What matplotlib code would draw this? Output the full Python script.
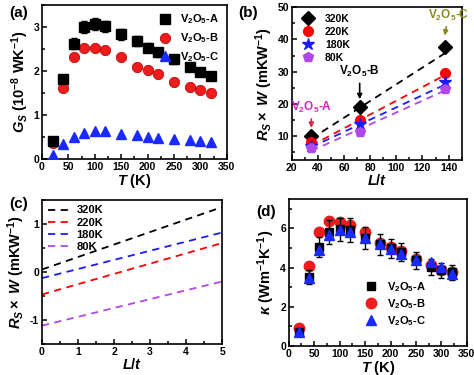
import matplotlib
matplotlib.use("Agg")
import matplotlib.pyplot as plt
from matplotlib.ticker import MultipleLocator
import numpy as np

plt.rcParams['font.family'] = ['Liberation Sans', 'DejaVu Sans']
plt.rcParams['font.weight'] = 'bold'
plt.rcParams['mathtext.fontset'] = 'custom'
plt.rcParams['mathtext.rm'] = 'Liberation Sans:bold'
plt.rcParams['mathtext.it'] = 'Liberation Sans:bold:italic'
plt.rcParams['mathtext.bf'] = 'Liberation Sans:bold'
plt.rcParams['axes.linewidth'] = 1.2
plt.rcParams['axes.unicode_minus'] = False

# (a) thermal conductance vs temperature
temps = [20, 40, 60, 80, 100, 120, 150, 180, 200, 220, 250, 280, 300, 320]
gs_a = [0.40, 1.81, 2.62, 3.00, 3.07, 3.01, 2.83, 2.68, 2.53, 2.42, 2.26, 2.09, 1.97, 1.88]
gs_a_err = [0.05, 0.06, 0.12, 0.13, 0.14, 0.13, 0.12, 0.12, 0.11, 0.10, 0.10, 0.09, 0.08, 0.08]
gs_b = [0.36, 1.62, 2.32, 2.52, 2.52, 2.47, 2.31, 2.09, 2.02, 1.92, 1.75, 1.63, 1.57, 1.51]
gs_c = [0.09, 0.35, 0.51, 0.59, 0.63, 0.63, 0.57, 0.54, 0.51, 0.47, 0.45, 0.43, 0.41, 0.38]

# (b) Rs x W vs L/t
lt = [35, 72, 137]
temp_labels = ['320K', '220K', '180K', '80K']
rsw = {
    '320K': [10.0, 19.0, 37.8],
    '220K': [8.0, 15.0, 29.7],
    '180K': [7.0, 13.8, 26.7],
    '80K': [6.2, 11.3, 24.7],
}
# linear fits (intercept, slope) shown as dashed lines in (b) and (c)
fit_intercept = [0.05, -0.47, -0.13, -1.12]
fit_slope = [0.26, 0.214, 0.19, 0.184]

# (d) thermal conductivity
kappa_a = [0.72, 3.53, 5.06, 5.83, 5.95, 5.91, 5.52, 5.18, 4.98, 4.80, 4.38, 4.04, 3.87, 3.75]
kappa_a_err = [0.10, 0.35, 0.50, 0.60, 0.60, 0.60, 0.55, 0.52, 0.50, 0.48, 0.44, 0.40, 0.38, 0.37]
kappa_b = [0.92, 4.07, 5.83, 6.37, 6.34, 6.20, 5.83, 5.28, 5.05, 4.84, 4.43, 4.12, 3.87, 3.78]
kappa_c = [0.72, 3.44, 4.89, 5.66, 5.91, 5.83, 5.49, 5.18, 4.93, 4.67, 4.38, 4.30, 4.04, 3.65]

colors_b = ['black', 'red', '#1a1aff', '#b048e8']
markers_b = ['D', 'o', '*', 'p']
sample_labels = [r'V$_2$O$_5$-A', r'V$_2$O$_5$-B', r'V$_2$O$_5$-C']

LBL = 10.5
TCK = 7.5

fig = plt.figure(figsize=(4.74, 3.75), dpi=100)
ax_a = fig.add_axes([0.0886, 0.576, 0.390, 0.411])
ax_b = fig.add_axes([0.6154, 0.5733, 0.3586, 0.4072])
ax_c = fig.add_axes([0.0886, 0.083, 0.380, 0.384])
ax_d = fig.add_axes([0.609, 0.078, 0.376, 0.391])

for ax in [ax_a, ax_b, ax_c, ax_d]:
    ax.tick_params(direction='in', which='both', labelsize=TCK, width=1.1, pad=2)
    ax.tick_params(which='major', length=3.5)
    ax.tick_params(which='minor', length=2)

# ----- (a)
ha = ax_a.errorbar(temps, gs_a, yerr=gs_a_err, fmt='s', color='black', ms=6.5,
                   capsize=2, elinewidth=1, zorder=3)
hb, = ax_a.plot(temps, gs_b, 'o', color='#ee1c1c', mec='#b00000', mew=0.5, ms=7.5, zorder=3)
hc, = ax_a.plot(temps, gs_c, '^', color='#1a2aff', ms=7.5, zorder=3)
ax_a.set_xlim(0, 350)
ax_a.set_ylim(0, 3.5)
ax_a.xaxis.set_major_locator(MultipleLocator(50))
ax_a.xaxis.set_minor_locator(MultipleLocator(25))
ax_a.yaxis.set_major_locator(MultipleLocator(1))
ax_a.yaxis.set_minor_locator(MultipleLocator(0.5))
ax_a.set_xlabel(r'$T$ (K)', fontsize=LBL, fontweight='bold', labelpad=0)
ax_a.set_ylabel(r'$G_S$ (10$^{-8}$ WK$^{-1}$)', fontsize=LBL, fontweight='bold', labelpad=2)
ax_a.legend([ha[0], hb, hc], sample_labels, loc='upper right', frameon=False, fontsize=8,
            handletextpad=0.4, borderaxespad=0.3, labelspacing=0.45)
fig.text(0.02, 0.955, '(a)', fontsize=11, fontweight='bold')

# ----- (b)
x_fit = np.array([lt[0], lt[-1]])
for i, t in enumerate(temp_labels):
    ax_b.plot(x_fit, fit_intercept[i] + fit_slope[i] * x_fit,
              ls=(0, (4, 3)), color=colors_b[i], lw=1.3, zorder=2)
for i, t in enumerate(temp_labels):
    ms = 9 if markers_b[i] == '*' else 7
    ax_b.plot(lt, rsw[t], markers_b[i], color=colors_b[i], ms=ms, label=t, zorder=3)
ax_b.set_xlim(20, 150)
ax_b.set_ylim(2.5, 50)
ax_b.xaxis.set_major_locator(MultipleLocator(20))
ax_b.xaxis.set_minor_locator(MultipleLocator(10))
ax_b.yaxis.set_major_locator(MultipleLocator(10))
ax_b.yaxis.set_minor_locator(MultipleLocator(5))
ax_b.set_xlabel(r'$L/t$', fontsize=LBL, fontweight='bold', labelpad=0)
ax_b.set_ylabel(r'$R_S\times$ $W$ (mKW$^{-1}$)', fontsize=LBL, fontweight='bold', labelpad=2)
ax_b.legend(loc='upper left', frameon=False, fontsize=7.5, handletextpad=0.6,
            borderaxespad=0.3, labelspacing=0.3, borderpad=0.3)
arrow_kw = dict(arrowstyle='-|>', lw=1.2, mutation_scale=7, shrinkA=1, shrinkB=0)
ax_b.annotate(sample_labels[0], xy=(lt[0], 12.5), xytext=(lt[0], 18.9),
              color='#e020c0', fontsize=8.5, fontweight='bold', ha='center', va='center',
              arrowprops=dict(color='#e02040', **arrow_kw))
ax_b.annotate(sample_labels[1], xy=(lt[1], 21.4), xytext=(lt[1], 30.0),
              color='black', fontsize=8.5, fontweight='bold', ha='center', va='center',
              arrowprops=dict(color='black', **arrow_kw))
ax_b.annotate(sample_labels[2], xy=(lt[2], 41.2), xytext=(lt[2] + 3, 47.6),
              color='#8a8a1a', fontsize=8.5, fontweight='bold', ha='center', va='center',
              arrowprops=dict(color='#8a8a1a', **arrow_kw), annotation_clip=False)
fig.text(0.502, 0.955, '(b)', fontsize=11, fontweight='bold')

# ----- (c)
x_c = np.array([0.0, 5.0])
for i, t in enumerate(temp_labels):
    ax_c.plot(x_c, fit_intercept[i] + fit_slope[i] * x_c, ls=(0, (4, 3)),
              color=colors_b[i], lw=1.3, label=t)
ax_c.set_xlim(0, 5)
ax_c.set_ylim(-1.5, 1.5)
ax_c.xaxis.set_major_locator(MultipleLocator(1))
ax_c.xaxis.set_minor_locator(MultipleLocator(0.5))
ax_c.yaxis.set_major_locator(MultipleLocator(1))
ax_c.yaxis.set_minor_locator(MultipleLocator(0.5))
ax_c.set_xlabel(r'$L/t$', fontsize=LBL, fontweight='bold', labelpad=0)
ax_c.set_ylabel(r'$R_S\times$ $W$ (mKW$^{-1}$)', fontsize=LBL, fontweight='bold', labelpad=2)
ax_c.legend(loc='upper left', frameon=False, fontsize=8, handlelength=1.8,
            handletextpad=0.8, borderaxespad=0.2, labelspacing=0.2, borderpad=0.3)
fig.text(0.02, 0.445, '(c)', fontsize=11, fontweight='bold')

# ----- (d)
da = ax_d.errorbar(temps, kappa_a, yerr=kappa_a_err, fmt='s', color='black', ms=5.5,
                   capsize=2, elinewidth=1, zorder=3)
db, = ax_d.plot(temps, kappa_b, 'o', color='#ee1c1c', ms=7.5, zorder=2)
dc, = ax_d.plot(temps, kappa_c, '^', color='#1a2aff', ms=7.5, zorder=4)
ax_d.set_xlim(0, 350)
ax_d.set_ylim(0, 7.5)
ax_d.xaxis.set_major_locator(MultipleLocator(50))
ax_d.xaxis.set_minor_locator(MultipleLocator(25))
ax_d.yaxis.set_major_locator(MultipleLocator(2))
ax_d.yaxis.set_minor_locator(MultipleLocator(1))
ax_d.set_xlabel(r'$T$ (K)', fontsize=LBL, fontweight='bold', labelpad=0)
ax_d.set_ylabel(r'$\kappa$ (Wm$^{-1}$K$^{-1}$)', fontsize=LBL, fontweight='bold', labelpad=2)
ax_d.legend([da[0], db, dc], sample_labels, loc='lower left', bbox_to_anchor=(0.40, 0.12),
            frameon=False, fontsize=8, handletextpad=0.4, labelspacing=0.3,
            borderaxespad=0, borderpad=0)
fig.text(0.54, 0.425, '(d)', fontsize=11, fontweight='bold')

fig.savefig('out.png', dpi=100)
